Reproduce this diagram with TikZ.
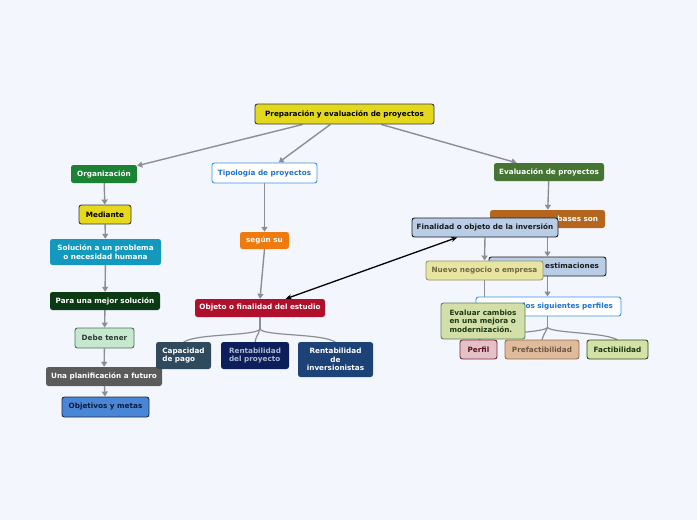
\documentclass[tikz,border=0pt]{standalone}
\usepackage{fontspec}
\setmainfont{DejaVu Sans}
\usetikzlibrary{arrows.meta}
\pgfdeclarelayer{paper}
\pgfdeclarelayer{background}
\pgfsetlayers{paper,background,main}
\definecolor{bgc}{HTML}{F3F6FD}
\definecolor{rootc}{HTML}{E3D81E}
\definecolor{darkb}{HTML}{3A3A3A}
\definecolor{orgc}{HTML}{1C8234}
\definecolor{blueb}{HTML}{3B8FEA}
\definecolor{bluet}{HTML}{1F73D3}
\definecolor{evalc}{HTML}{467432}
\definecolor{medc}{HTML}{E6D81C}
\definecolor{solc}{HTML}{1399BE}
\definecolor{parac}{HTML}{0B3A14}
\definecolor{debec}{HTML}{C5E8CE}
\definecolor{debeb}{HTML}{4F7056}
\definecolor{debet}{HTML}{2D3D30}
\definecolor{unac}{HTML}{5B5B5B}
\definecolor{objc}{HTML}{4A86D6}
\definecolor{objb}{HTML}{1C2C48}
\definecolor{objt}{HTML}{0E1A3A}
\definecolor{segc}{HTML}{EF7A10}
\definecolor{objetoc}{HTML}{B0102C}
\definecolor{capc}{HTML}{2E4A5C}
\definecolor{rpc}{HTML}{0C1F5A}
\definecolor{rpt}{HTML}{AFB8D2}
\definecolor{ric}{HTML}{1C4278}
\definecolor{basc}{HTML}{B4661E}
\definecolor{finc}{HTML}{B9CDE7}
\definecolor{fint}{HTML}{1A1A1A}
\definecolor{nuec}{HTML}{E8E5A2}
\definecolor{nueb}{HTML}{9A9466}
\definecolor{nuet}{HTML}{6E6844}
\definecolor{evac}{HTML}{D3DFA9}
\definecolor{evab}{HTML}{5E8058}
\definecolor{evat}{HTML}{1E3A14}
\definecolor{perc}{HTML}{E5C0C6}
\definecolor{perb}{HTML}{7A2838}
\definecolor{pert}{HTML}{5A1222}
\definecolor{prec}{HTML}{E0BB9A}
\definecolor{preb}{HTML}{8E6E55}
\definecolor{pret}{HTML}{6E5646}
\definecolor{facc}{HTML}{D4E1A7}
\definecolor{facb}{HTML}{2E4C22}
\definecolor{fact}{HTML}{1C3812}
\definecolor{linec}{HTML}{8C8E96}
\tikzset{
  box/.style={rounded corners=2.5pt, inner sep=0pt, align=center,
    font=\fontsize{7.25}{8.6}\selectfont\bfseries, text=white},
  bbox/.style={box, draw=#1, line width=0.9pt},
  conn/.style={draw=linec, line width=1.4pt, -{Triangle[length=5pt,width=6pt]}},
  tline/.style={draw=linec, line width=1.2pt},
}
\begin{document}
\begin{tikzpicture}[x=1pt,y=-1pt]
\begin{pgfonlayer}{paper}
\fill[bgc] (0,0) rectangle (697,520);
\end{pgfonlayer}
\useasboundingbox (0,0) rectangle (697,520);

% top
\node[bbox=darkb, fill=rootc, text=black, minimum width=179pt, minimum height=20pt] (root) at (344.5,114) {Preparación y evaluación de proyectos};
\node[box, fill=orgc, minimum width=66pt, minimum height=18pt] (org) at (104,174) {Organización};
\node[bbox=blueb, fill=white, text=bluet, minimum width=105pt, minimum height=20pt] (tip) at (264.5,173) {Tipología de proyectos};
\node[box, fill=evalc, minimum width=110pt, minimum height=18pt] (eval) at (549,172) {Evaluación de proyectos};

% left column
\node[bbox=darkb, fill=medc, text=black, minimum width=52pt, minimum height=19pt] (med) at (105,214.5) {Mediante};
\node[box, fill=solc, minimum width=111pt, minimum height=26pt] (sol) at (105.5,252) {Solución a un problema\\o necesidad humana};
\node[box, fill=parac, minimum width=110pt, minimum height=18pt] (para) at (105,301) {Para una mejor solución};
\node[bbox=debeb, fill=debec, text=debet, minimum width=59pt, minimum height=20pt] (debe) at (104.5,338) {Debe tener};
\node[box, fill=unac, minimum width=116pt, minimum height=19pt] (una) at (104,376.5) {Una planificación a futuro};
\node[bbox=objb, fill=objc, text=objt, minimum width=87pt, minimum height=20pt] (objm) at (105.5,407) {Objetivos y metas};

% middle column
\node[box, fill=segc, minimum width=49pt, minimum height=17pt] (seg) at (264.5,240.5) {según su};
\node[box, fill=objetoc, minimum width=130pt, minimum height=18pt] (objeto) at (260,308) {Objeto o finalidad del estudio};
\node[box, fill=capc, align=left, minimum width=55pt, minimum height=27pt] (cap) at (183.5,355.5) {Capacidad\\de pago};
\node[box, fill=rpc, text=rpt, align=left, minimum width=68pt, minimum height=27pt] (rp) at (255,355.5) {Rentabilidad\\del proyecto};
\node[box, fill=ric, minimum width=75pt, minimum height=35pt] (ri) at (335.5,359.5) {Rentabilidad\\de\\inversionistas};

% right column
\node[box, fill=basc, align=right, inner xsep=7pt, text width=101pt, minimum height=18pt] (bas) at (547.5,219) {bases son};
\node[bbox=fint, fill=finc, text=fint, minimum width=146pt, minimum height=19pt] (fin) at (485,227.5) {Finalidad o objeto de la inversión};
\node[bbox=fint, fill=finc, text=fint, align=right, inner xsep=7pt, text width=103pt, minimum height=19pt] (est) at (547.5,266.5) {y estimaciones};
\node[bbox=nueb, fill=nuec, text=nuet, minimum width=117pt, minimum height=19pt] (nue) at (484.5,270.5) {Nuevo negocio o empresa};
\node[bbox=blueb, fill=white, text=bluet, align=right, inner xsep=8pt, text width=129pt, minimum height=19pt] (perf) at (548.5,306.5) {los siguientes perfiles};
\node[bbox=evab, fill=evac, text=evat, align=left, minimum width=84pt, minimum height=36pt] (evc) at (483,321) {Evaluar cambios\\en una mejora o\\modernización.};
\node[bbox=perb, fill=perc, text=pert, minimum width=37pt, minimum height=19pt] (per) at (478.5,349.5) {Perfil};
\node[bbox=preb, fill=prec, text=pret, minimum width=74pt, minimum height=19pt] (pre) at (542,349.5) {Prefactibilidad};
\node[bbox=facb, fill=facc, text=fact, minimum width=61pt, minimum height=19pt] (fac) at (617.5,349.5) {Factibilidad};

\begin{pgfonlayer}{background}
\draw[conn] (root) -- (org);
\draw[conn] (root) -- (tip);
\draw[conn] (root) -- (eval);
\draw[conn] (org) -- (med);
\draw[conn] (med) -- (sol);
\draw[conn] (sol) -- (para);
\draw[conn] (para) -- (debe);
\draw[conn] (debe) -- (una);
\draw[conn] (una) -- (objm);
\draw[conn] (tip) -- (seg);
\draw[conn] (seg.south) -- (objeto.north);
\draw[conn] (eval) -- (bas);
\draw[conn] (bas.south) -- (est.north);
\draw[conn] (est.south) -- (perf.north -| est.south);
\draw[conn] (fin.south) -- (nue.north);
\draw[tline] (nue.south) -- (evc.north -| nue.south);
% objeto tree
\coordinate (ot) at ([yshift=-12pt]objeto.south);
\draw[tline] (objeto.south) -- (ot);
\draw[tline] (ot) .. controls +(-5,7) and +(12,-9) .. ([yshift=-0.5pt]cap.north);
\draw[tline] (ot) .. controls +(-2,6) and +(1,-6) .. ([yshift=-0.5pt]rp.north);
\draw[tline] (ot) .. controls +(5,7) and +(-12,-9) .. ([yshift=-0.5pt]ri.north);
% perfiles tree
\coordinate (pt) at ([yshift=-11pt]perf.south -| est.south);
\draw[tline] (perf.south -| est.south) -- (pt);
\draw[tline] (pt) .. controls +(-5,6) and +(12,-8) .. ([yshift=-0.5pt]per.north);
\draw[tline] (pt) .. controls +(-2,5) and +(1,-5) .. ([yshift=-0.5pt]pre.north);
\draw[tline] (pt) .. controls +(5,6) and +(-12,-8) .. ([yshift=-0.5pt]fac.north);
\end{pgfonlayer}
\draw[black, line width=1.3pt, {Stealth[length=6pt,width=5pt]}-{Stealth[length=6pt,width=5pt]}] (objeto) -- (fin);
\end{tikzpicture}
\end{document}
